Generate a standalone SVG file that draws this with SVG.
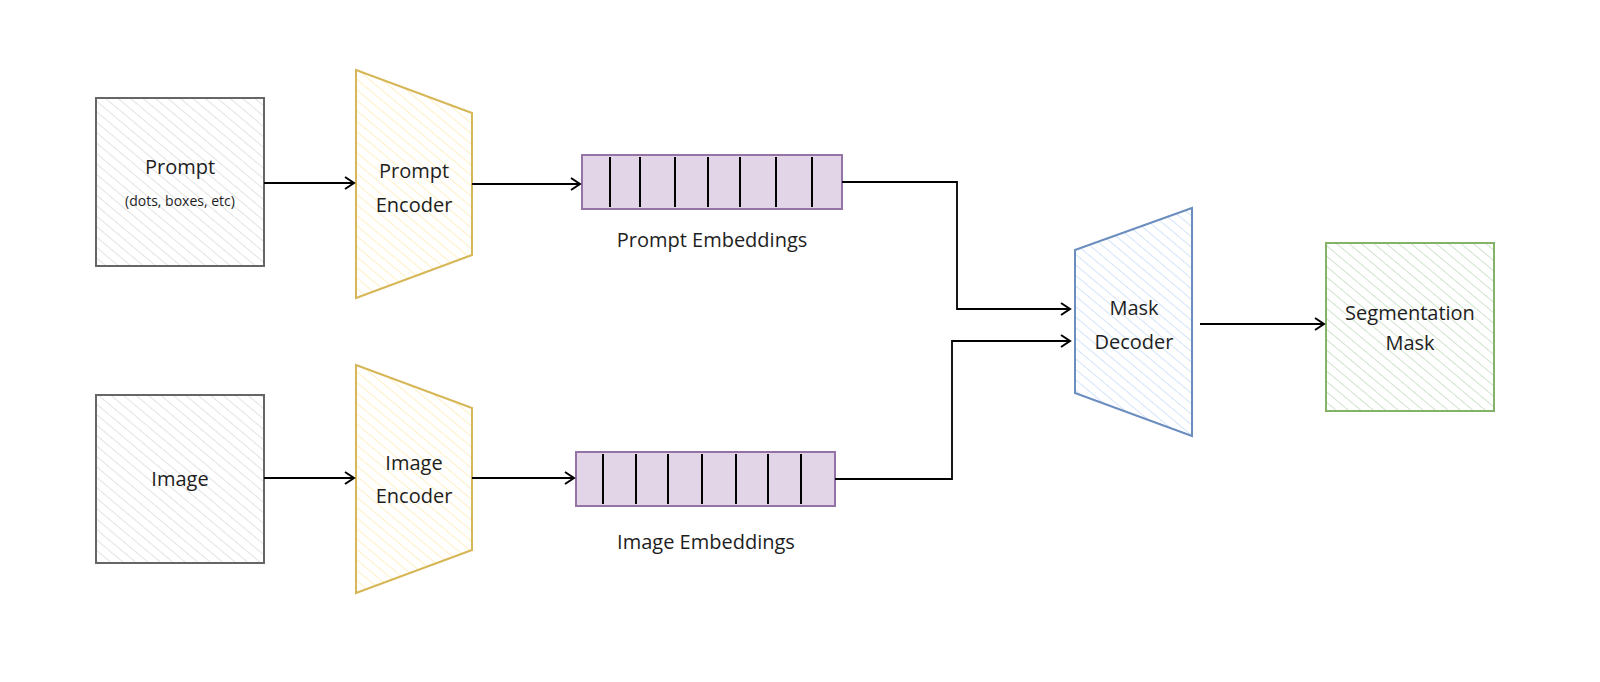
<svg xmlns="http://www.w3.org/2000/svg" width="1600" height="682" viewBox="0 0 1600 682">
<style>
text{font-family:"Open Sans","Liberation Sans",sans-serif;font-size:20px;fill:#1e1e1e;text-anchor:middle}
.c{fill:none;stroke:#000;stroke-width:1.8}
.d{stroke:#000;stroke-width:2}
</style>
<defs>
<pattern id="hg" width="8" height="8" patternUnits="userSpaceOnUse" patternTransform="rotate(-50)"><rect width="8" height="8" fill="#fff"/><line x1="0" y1="0" x2="0" y2="8" stroke="#e3e3e3" stroke-width="2"/></pattern>
<pattern id="hy" width="8" height="8" patternUnits="userSpaceOnUse" patternTransform="rotate(-50)"><rect width="8" height="8" fill="#fff"/><line x1="0" y1="0" x2="0" y2="8" stroke="#fff0c4" stroke-width="2"/></pattern>
<pattern id="hb" width="8" height="8" patternUnits="userSpaceOnUse" patternTransform="rotate(-50)"><rect width="8" height="8" fill="#fff"/><line x1="0" y1="0" x2="0" y2="8" stroke="#d4e4fa" stroke-width="2"/></pattern>
<pattern id="hgr" width="8" height="8" patternUnits="userSpaceOnUse" patternTransform="rotate(-50)"><rect width="8" height="8" fill="#fff"/><line x1="0" y1="0" x2="0" y2="8" stroke="#cfe4cc" stroke-width="2"/></pattern>
<marker id="a" markerWidth="14" markerHeight="14" refX="11" refY="7" orient="auto" markerUnits="userSpaceOnUse"><path d="M2,1 L11,7 L2,13" fill="none" stroke="#000" stroke-width="2"/></marker>
</defs>
<rect width="1600" height="682" fill="#fff"/>
<g id="prompt"><rect x="96" y="98" width="168" height="168" fill="url(#hg)" stroke="#666" stroke-width="2"/><text x="180" y="174">Prompt</text><text x="180" y="206" style="font-size:14px">(dots, boxes, etc)</text></g>
<g id="prompt-encoder"><path d="M356,70 L472,113 L472,255 L356,298 Z" fill="url(#hy)" stroke="#d6b656" stroke-width="2"/><text x="414" y="178">Prompt</text><text x="414" y="212">Encoder</text></g>
<g id="prompt-embeddings"><rect x="582" y="155" width="260" height="54" fill="#e1d5e7" stroke="#9673a6" stroke-width="2"/>
<path class="d" d="M610,157V207M640,157V207M675,157V207M708,157V207M740,157V207M776,157V207M812,157V207"/>
<text x="712" y="247">Prompt Embeddings</text></g>
<g id="image"><rect x="96" y="395" width="168" height="168" fill="url(#hg)" stroke="#666" stroke-width="2"/><text x="180" y="486">Image</text></g>
<g id="image-encoder"><path d="M356,365 L472,408 L472,550 L356,593 Z" fill="url(#hy)" stroke="#d6b656" stroke-width="2"/><text x="414" y="470">Image</text><text x="414" y="503">Encoder</text></g>
<g id="image-embeddings"><rect x="576" y="452" width="259" height="54" fill="#e1d5e7" stroke="#9673a6" stroke-width="2"/>
<path class="d" d="M603,454V504M636,454V504M668,454V504M702,454V504M736,454V504M768,454V504M801,454V504"/>
<text x="706" y="549">Image Embeddings</text></g>
<g id="mask-decoder"><path d="M1075,250 L1192,208 L1192,436 L1075,393 Z" fill="url(#hb)" stroke="#6c8ebf" stroke-width="2"/><text x="1134" y="315">Mask</text><text x="1134" y="349">Decoder</text></g>
<g id="segmentation-mask"><rect x="1326" y="243" width="168" height="168" fill="url(#hgr)" stroke="#82b366" stroke-width="2"/><text x="1410" y="320">Segmentation</text><text x="1410" y="350">Mask</text></g>
<g id="connectors">
<path class="c" marker-end="url(#a)" d="M264,183 H354"/>
<path class="c" marker-end="url(#a)" d="M472,184 H580"/>
<path class="c" marker-end="url(#a)" d="M842,182 H957 V309 H1070"/>
<path class="c" marker-end="url(#a)" d="M264,478 H354"/>
<path class="c" marker-end="url(#a)" d="M472,478 H574"/>
<path class="c" marker-end="url(#a)" d="M835,479 H952 V341 H1070"/>
<path class="c" marker-end="url(#a)" d="M1200,324 H1324"/>
</g>
</svg>
